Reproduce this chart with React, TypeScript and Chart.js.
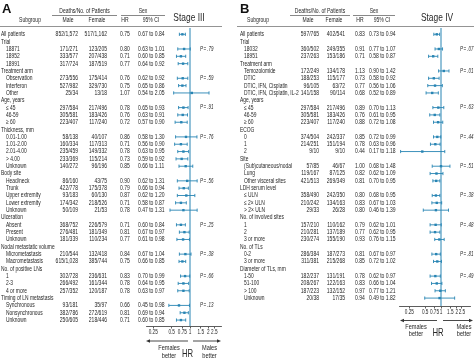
import React, { useEffect, useRef } from 'react';
import { Chart, registerables } from 'chart.js';

Chart.register(...registerables);

// ---------- Panel A (Stage III) ----------
const aSubgroups = ['All patients', 'Trial', '18871', '18952', '18991', 'Treatment arm', 'Observation', 'Interferon', 'Other', 'Age, years', '≤ 45', '46-59', '≥ 60', 'Thickness, mm', '0.01-1.00', '1.01-2.00', '2.01-4.00', '> 4.00', 'Unknown', 'Body site', 'Head/neck', 'Trunk', 'Upper extremity', 'Lower extremity', 'Unknown', 'Ulceration', 'Absent', 'Present', 'Unknown', 'Nodal metastatic volume', 'Micrometastasis', 'Macrometastasis', 'No. of positive LNs', '1', '2-3', '4 or more', 'Timing of LN metastasis', 'Synchronous', 'Nonsynchronous', 'Unknown'];
const aMale = ['852/1,572', '', '171/271', '333/577', '317/724', '', '273/556', '527/982', '25/34', '', '297/584', '305/581', '223/407', '', '58/138', '160/334', '235/459', '233/369', '140/272', '', '86/160', '422/778', '93/183', '174/342', '50/109', '', '368/752', '276/481', '181/339', '', '210/544', '615/1,028', '', '302/728', '266/492', '257/352', '', '93/181', '382/786', '250/605'];
const aFemale = ['517/1,162', '', '123/205', '207/438', '187/519', '', '175/414', '329/730', '13/18', '', '217/496', '183/426', '117/240', '', '40/107', '117/313', '149/332', '115/214', '96/196', '', '43/75', '175/378', '60/130', '218/526', '21/53', '', '226/579', '181/349', '110/234', '', '132/418', '385/744', '', '236/631', '161/344', '120/187', '', '35/97', '272/619', '218/446'];
const aHR = [0.75, null, 0.80, 0.71, 0.77, null, 0.76, 0.75, 1.07, null, 0.78, 0.76, 0.72, null, 0.86, 0.71, 0.78, 0.73, 0.85, null, 0.90, 0.79, 0.87, 0.71, 0.78, null, 0.71, 0.81, 0.77, null, 0.84, 0.75, null, 0.83, 0.78, 0.78, null, 0.66, 0.81, 0.71];
const aLower = [0.67, null, 0.63, 0.60, 0.64, null, 0.62, 0.65, 0.54, null, 0.65, 0.63, 0.57, null, 0.58, 0.56, 0.63, 0.59, 0.66, null, 0.62, 0.66, 0.62, 0.58, 0.47, null, 0.60, 0.67, 0.61, null, 0.67, 0.66, null, 0.70, 0.64, 0.63, null, 0.45, 0.69, 0.60];
const aUpper = [0.84, null, 1.01, 0.85, 0.92, null, 0.92, 0.86, 2.05, null, 0.93, 0.91, 0.90, null, 1.30, 0.90, 0.95, 0.92, 1.11, null, 1.31, 0.94, 1.20, 0.87, 1.31, null, 0.84, 0.97, 0.98, null, 1.04, 0.85, null, 0.99, 0.95, 0.97, null, 0.98, 0.94, 0.85];
const aPRows = [2, 6, 10, 14, 20, 26, 30, 33, 37];
const aPValues = ['.79', '.59', '.91', '.76', '.56', '.25', '.38', '.66', '.13'];

// ---------- Panel B (Stage IV) ----------
const bSubgroups = ['All patients', 'Trial', '18032', '18951', 'Treatment arm', 'Temozolomide', 'DTIC', 'DTIC, IFN, Cisplatin', 'DTIC, IFN, Cisplatin, IL-2', 'Age, years', '≤ 45', '46-59', '≥ 60', 'ECOG', '0', '1', '2', 'Site', '(Sub)cutaneous/nodal', 'Lung', 'Other visceral sites', 'LDH serum level', '≤ ULN', '≤ 2× ULN', '> 2× ULN', 'No. of involved sites', '1', '2', '3 or more', 'No. of TLs', '0-2', '3 or more', 'Diameter of TLs, mm', '1-50', '51-100', '> 100', 'Unknown'];
const bMale = ['597/765', '', '360/502', '237/263', '', '172/249', '188/253', '96/105', '141/158', '', '297/584', '305/581', '223/407', '', '374/504', '214/251', '9/10', '', '57/85', '119/167', '421/513', '', '358/490', '210/242', '29/33', '', '157/210', '210/281', '230/274', '', '286/384', '311/381', '', '182/237', '208/267', '187/223', '20/38'];
const bFemale = ['402/541', '', '249/355', '153/186', '', '134/178', '115/177', '63/72', '90/114', '', '217/496', '183/426', '117/240', '', '242/337', '151/194', '9/10', '', '46/67', '87/125', '269/349', '', '242/350', '134/163', '26/28', '', '110/162', '137/189', '155/190', '', '187/273', '215/268', '', '131/191', '122/163', '132/152', '17/35'];
const bHR = [0.83, null, 0.91, 0.71, null, 1.13, 0.73, 0.77, 0.68, null, 0.89, 0.76, 0.88, null, 0.85, 0.78, 0.44, null, 1.00, 0.82, 0.81, null, 0.80, 0.83, 0.80, null, 0.79, 0.77, 0.93, null, 0.81, 0.85, null, 0.78, 0.83, 0.97, 0.94];
const bLower = [0.73, null, 0.77, 0.58, null, 0.90, 0.58, 0.56, 0.52, null, 0.70, 0.61, 0.72, null, 0.72, 0.63, 0.17, null, 0.68, 0.62, 0.70, null, 0.68, 0.67, 0.46, null, 0.62, 0.62, 0.76, null, 0.67, 0.72, null, 0.62, 0.66, 0.77, 0.49];
const bUpper = [0.94, null, 1.07, 0.87, null, 1.42, 0.92, 1.06, 0.89, null, 1.13, 0.95, 1.08, null, 0.99, 0.96, 1.18, null, 1.48, 1.09, 0.95, null, 0.95, 1.03, 1.39, null, 1.01, 0.95, 1.15, null, 0.97, 1.02, null, 0.97, 1.04, 1.21, 1.82];
const bPRows = [2, 5, 10, 14, 18, 22, 26, 30, 33];
const bPValues = ['.07', '.01', '.63', '.44', '.51', '.38', '.48', '.81', '.49'];

// ---------- Shared labels ----------
const xTickValues = [0.25, 0.5, 0.75, 1, 1.5, 2, 2.5];
const xTickLabels = ['0.25', '0.5', '0.75', '1', '1.5', '2', '2.5'];
const headerCols = ['Subgroup', 'Male', 'Female', 'HR', '95% CI'];
const headerTop = ['Deaths/No. of Patients', 'Sex'];

const FONT = '"Liberation Sans", Arial, Helvetica, sans-serif';
const TEXT = '#262626';
const BLUE = '#2784b3';
const AXIS = '#333333';
const SX = 0.72;
const W = 237;
const H = 364;

function drawText(ctx: any, s: string, x: number, y: number, align: string, size = 7, o: any = {}) {
  ctx.save();
  ctx.font = `${o.italic ? 'italic ' : ''}${o.bold ? 'bold ' : ''}${size}px ${FONT}`;
  ctx.fillStyle = o.color || TEXT;
  ctx.textAlign = align;
  ctx.textBaseline = 'middle';
  ctx.translate(x, y);
  ctx.scale(o.sx ?? SX, 1);
  ctx.fillText(s, 0, 0);
  const w = ctx.measureText(s).width * (o.sx ?? SX);
  ctx.restore();
  return w;
}

function hline(ctx: any, x1: number, x2: number, y: number, color = '#555', lw = 0.7) {
  ctx.save();
  ctx.strokeStyle = color;
  ctx.lineWidth = lw;
  ctx.beginPath();
  ctx.moveTo(x1, y);
  ctx.lineTo(x2, y);
  ctx.stroke();
  ctx.restore();
}

function arrow(ctx: any, x1: number, x2: number, y: number, headAtStart: boolean) {
  ctx.save();
  ctx.strokeStyle = AXIS;
  ctx.fillStyle = AXIS;
  ctx.lineWidth = 0.9;
  const hx = headAtStart ? x1 : x2;
  const dir = headAtStart ? 1 : -1;
  ctx.beginPath();
  ctx.moveTo(headAtStart ? x1 + 3 : x1, y);
  ctx.lineTo(headAtStart ? x2 : x2 - 3, y);
  ctx.stroke();
  ctx.beginPath();
  ctx.moveTo(hx, y);
  ctx.lineTo(hx + dir * 4, y - 1.8);
  ctx.lineTo(hx + dir * 4, y + 1.8);
  ctx.closePath();
  ctx.fill();
  ctx.restore();
}

const layoutA = {
  letter: 'A', letterX: 2, stage: 'Stage III', stageC: 189,
  lineL: 0, lineR: 222, deathsL: 52, deathsR: 117, sexL: 121, sexR: 165,
  hdr: [30, 68, 97, 125, 151],
  labelX: 1, indentX: 6, maleR: 78, femaleR: 107, hrC: 125, ciL: 138, pL: 200,
  axL: 146, axR: 221, axY: 326, one: 190, pxPerLn: 26.5, ymax: 39.81,
  tickY: 332, arrowY: 341, arrL: [146, 188], arrR: [193, 221],
  femC: 169, hrTC: 187.5, malC: 209.5, t1Y: 348, t2Y: 355.5, hrY: 354,
};

const layoutB = {
  letter: 'B', letterX: 3, stage: 'Stage IV', stageC: 200,
  lineL: 0, lineR: 237, deathsL: 53, deathsR: 113, sexL: 116, sexR: 158,
  hdr: [21, 71, 97, 123, 145],
  labelX: 3, indentX: 7, maleR: 82, femaleR: 108, hrC: 123, ciL: 132, pL: 223,
  axL: 162, axR: 233, axY: 306, one: 204, pxPerLn: 22.8, ymax: 37.08,
  tickY: 312.5, arrowY: 320.5, arrL: [163, 200], arrR: [206, 236],
  femC: 179, hrTC: 201, malC: 227, t1Y: 327, t2Y: 334, hrY: 333,
};

function makePanel(canvas: HTMLCanvasElement, d: any, L: any) {
  const pts: any[] = [];
  d.hr.forEach((v: any, i: number) => { if (v != null) pts.push({ x: v, y: i }); });
  const xmin = Math.exp((L.axL - L.one) / L.pxPerLn);
  const xmax = Math.exp((L.axR - L.one) / L.pxPerLn);

  const plugin = {
    id: 'forest' + L.letter,
    beforeDatasetsDraw(chart: any) {
      const ctx = chart.ctx;
      const xs = chart.scales.x;
      const ys = chart.scales.y;
      const ca = chart.chartArea;
      ctx.save();
      ctx.strokeStyle = BLUE;
      ctx.lineWidth = 1;
      const x1 = xs.getPixelForValue(1);
      ctx.beginPath();
      ctx.moveTo(x1, ca.top + 1);
      ctx.lineTo(x1, ca.bottom);
      ctx.stroke();
      ctx.lineWidth = 0.9;
      d.hr.forEach((v: any, i: number) => {
        if (v == null) return;
        const y = ys.getPixelForValue(i);
        const a = xs.getPixelForValue(d.lo[i]);
        const b = xs.getPixelForValue(d.hi[i]);
        ctx.beginPath();
        ctx.moveTo(a, y); ctx.lineTo(b, y);
        ctx.moveTo(a, y - 1.6); ctx.lineTo(a, y + 1.6);
        ctx.moveTo(b, y - 1.6); ctx.lineTo(b, y + 1.6);
        ctx.stroke();
      });
      ctx.restore();
    },
    afterDraw(chart: any) {
      const ctx = chart.ctx;
      const xs = chart.scales.x;
      const ys = chart.scales.y;
      drawText(ctx, L.letter, L.letterX, 9, 'left', 13, { bold: true, sx: 1, color: '#111' });
      drawText(ctx, headerTop[0], (L.deathsL + L.deathsR) / 2, 11.5, 'center');
      drawText(ctx, headerTop[1], (L.sexL + L.sexR) / 2, 11.5, 'center');
      hline(ctx, L.deathsL, L.deathsR, 15.5);
      hline(ctx, L.sexL, L.sexR, 15.5);
      headerCols.forEach((h, k) => drawText(ctx, h, L.hdr[k], 20.5, 'center'));
      drawText(ctx, L.stage, L.stageC, 18.5, 'center', 10.5, { sx: 0.8 });
      hline(ctx, L.lineL, L.lineR, 26.5, '#666', 0.7);
      d.labels.forEach((lab: string, i: number) => {
        const y = ys.getPixelForValue(i);
        const indent = i !== 0 && d.hr[i] != null;
        drawText(ctx, lab, indent ? L.indentX : L.labelX, y, 'left', 7, { sx: 0.7 });
        if (d.male[i]) drawText(ctx, d.male[i], L.maleR, y, 'right');
        if (d.female[i]) drawText(ctx, d.female[i], L.femaleR, y, 'right');
        if (d.hr[i] != null) {
          drawText(ctx, d.hr[i].toFixed(2), L.hrC, y, 'center');
          drawText(ctx, `${d.lo[i].toFixed(2)} to ${d.hi[i].toFixed(2)}`, L.ciL, y, 'left');
        }
      });
      d.pRows.forEach((r: number, k: number) => {
        const y = ys.getPixelForValue(r);
        const w = drawText(ctx, 'P', L.pL, y, 'left', 6.5, { italic: true, sx: 0.68 });
        drawText(ctx, '= ' + d.pValues[k], L.pL + w + 0.5, y, 'left', 6.5, { italic: true, sx: 0.68 });
      });
      xTickValues.forEach((v, k) => {
        drawText(ctx, xTickLabels[k], xs.getPixelForValue(v), L.tickY, 'center', 6.5, { sx: 0.72 });
      });
      arrow(ctx, L.arrL[0], L.arrL[1], L.arrowY, true);
      arrow(ctx, L.arrR[0], L.arrR[1], L.arrowY, false);
      drawText(ctx, 'Females', L.femC, L.t1Y, 'center', 7.5, { sx: 0.75 });
      drawText(ctx, 'better', L.femC, L.t2Y, 'center', 7.5, { sx: 0.75 });
      drawText(ctx, 'Males', L.malC, L.t1Y, 'center', 7.5, { sx: 0.75 });
      drawText(ctx, 'better', L.malC, L.t2Y, 'center', 7.5, { sx: 0.75 });
      drawText(ctx, 'HR', L.hrTC, L.hrY, 'center', 11, { sx: 0.7 });
    },
  };

  return new Chart(canvas, {
    type: 'scatter',
    data: {
      datasets: [{
        data: pts,
        pointStyle: 'rect',
        pointRadius: 1.7,
        backgroundColor: BLUE,
        borderColor: BLUE,
        borderWidth: 0,
      }],
    },
    options: {
      animation: false,
      responsive: false,
      devicePixelRatio: 1,
      layout: { padding: { left: L.axL, right: W - L.axR, top: 27, bottom: H - L.axY - 3 } },
      plugins: { legend: { display: false }, tooltip: { enabled: false } },
      scales: {
        x: {
          type: 'logarithmic',
          min: xmin,
          max: xmax,
          position: 'bottom',
          afterBuildTicks: (s: any) => { s.ticks = xTickValues.map((v) => ({ value: v })); },
          afterFit: (s: any) => { s.height = 3; },
          ticks: { display: false },
          grid: { drawOnChartArea: false, drawTicks: true, tickLength: 2.5, color: AXIS, lineWidth: 0.8 },
          border: { display: true, color: AXIS, width: 0.8 },
        },
        y: { type: 'linear', display: false, min: -1, max: L.ymax, reverse: true },
      },
    } as any,
    plugins: [plugin],
  } as any);
}

export default function App() {
  const refA = useRef<HTMLCanvasElement>(null);
  const refB = useRef<HTMLCanvasElement>(null);
  useEffect(() => {
    document.body.style.margin = '0';
    const dA = { labels: aSubgroups, male: aMale, female: aFemale, hr: aHR, lo: aLower, hi: aUpper, pRows: aPRows, pValues: aPValues };
    const dB = { labels: bSubgroups, male: bMale, female: bFemale, hr: bHR, lo: bLower, hi: bUpper, pRows: bPRows, pValues: bPValues };
    const cA = makePanel(refA.current as HTMLCanvasElement, dA, layoutA);
    const cB = makePanel(refB.current as HTMLCanvasElement, dB, layoutB);
    return () => { cA.destroy(); cB.destroy(); };
  }, []);
  return (
    <div style={{ position: 'relative', width: 474, height: 364, background: '#fff' }}>
      <canvas ref={refA} width={W} height={H} style={{ position: 'absolute', left: 0, top: 0, width: W, height: H }} />
      <canvas ref={refB} width={W} height={H} style={{ position: 'absolute', left: 237, top: 0, width: W, height: H }} />
    </div>
  );
}
